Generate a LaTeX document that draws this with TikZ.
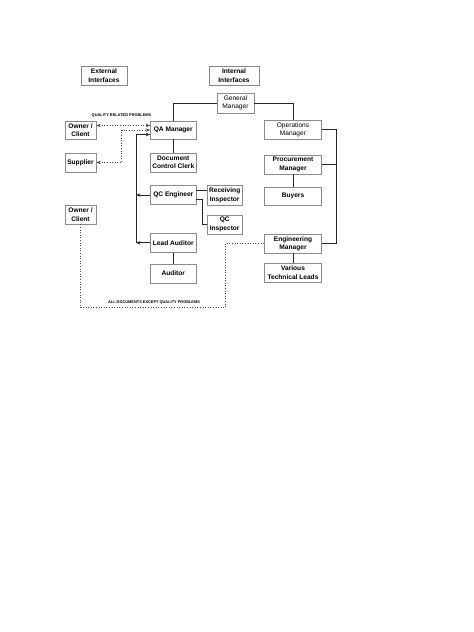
\documentclass[tikz,border=0pt]{standalone}
\usepackage{fontspec}
\setmainfont{Liberation Sans}
\usetikzlibrary{arrows.meta}
\begin{document}
\begin{tikzpicture}[x=1pt,y=-1pt,
  box/.style={draw=black!45, line width=0.7pt, fill=white, minimum height=19pt, inner sep=0pt, align=center, font=\fontsize{6.6}{8.3}\selectfont\bfseries},
  lightbox/.style={box, font=\fontsize{6.6}{8.3}\selectfont},
  conn/.style={draw=black!85, line width=0.75pt},
  dotconn/.style={draw=black!70, line width=0.6pt, dotted},
  tipend/.style={-{Stealth[length=4.5pt,width=3.4pt]}},
  tipboth/.style={{Stealth[length=4.5pt,width=3.4pt]}-{Stealth[length=4.5pt,width=3.4pt]}},
  lbl/.style={font=\fontsize{3.9}{4.5}\selectfont\bfseries, inner sep=0pt}]
\useasboundingbox (0,0) rectangle (474,632);

% header boxes
\node[box, minimum width=46pt] (ext) at (104,75.5) {External\\Interfaces};
\node[box, minimum width=50pt] (int) at (234,75.5) {Internal\\Interfaces};
\node[lightbox, minimum width=37pt, minimum height=20pt] (gm) at (235.5,103) {General\\Manager};

% QA column
\node[box, minimum width=45.5pt, minimum height=18pt] (qa) at (173.3,130) {QA Manager};
\node[box, minimum width=45.5pt] (dcc) at (173.3,162.5) {Document\\Control Clerk};
\node[box, minimum width=45.5pt] (qce) at (173.3,195) {QC Engineer};
\node[box, minimum width=45.5pt, minimum height=19.5pt] (lead) at (173.3,242.8) {Lead Auditor};
\node[box, minimum width=45.5pt] (aud) at (173.3,273.5) {Auditor};

% external
\node[box, minimum width=31pt, minimum height=18pt] (own1) at (80.5,130) {Owner /\\Client};
\node[box, minimum width=31pt] (sup) at (80.5,162.5) {Supplier};
\node[box, minimum width=31pt] (own2) at (80.5,214.5) {Owner /\\Client};

% inspectors
\node[box, minimum width=35.5pt, minimum height=19.5pt] (rec) at (224.7,195.2) {Receiving\\Inspector};
\node[box, minimum width=35.5pt] (qci) at (224.7,224.5) {QC\\Inspector};

% right column
\node[lightbox, minimum width=57pt] (ops) at (293,129.5) {Operations\\Manager};
\node[box, minimum width=57pt] (proc) at (293,164.5) {Procurement\\Manager};
\node[box, minimum width=57pt, minimum height=18pt] (buy) at (293,196) {Buyers};
\node[box, minimum width=57pt] (eng) at (293,243.5) {Engineering\\Manager};
\node[box, minimum width=57pt] (var) at (293,272.5) {Various\\Technical Leads};

% helper coordinates
\coordinate (rx) at (336,0);
\coordinate (lx) at (136,0);
\coordinate (dx) at (121.7,130);
\coordinate (bx) at (225,307.7);

% solid connectors
\draw[conn] (gm.west) -| (qa.north);
\draw[conn] (gm.east) -| (ops.north);
\draw[conn] (qa) -- (dcc);
\draw[conn] (lead) -- (aud);
\draw[conn] (proc) -- (buy);
\draw[conn] (eng) -- (var);
\draw[conn] (ops.east) -- (ops.east -| rx) |- (eng.east);
\draw[conn] (proc.east) -- (proc.east -| rx);
\draw[conn] ([yshift=5pt]qce.east) -- ([yshift=5pt]qce.east -| rec.west);
\draw[conn] ([yshift=-4pt]qce.east) -- ++(6pt,0) |- (qci.west);
\draw[conn, tipend] (qce.west) -- (qce.west -| lx);
\draw[conn, tipend] (lead.west) -- (lead.west -| lx);
\draw[conn, tipend] (lead.west -| lx) -- ([yshift=-4.5pt]qa.west -| lx) -- ([yshift=-4.5pt]qa.west);

% dotted connectors
\draw[dotconn, tipboth] ([yshift=4.5pt]own1.east) -- ([yshift=4.5pt]qa.west);
\draw[dotconn, tipboth] (sup.east) -| (dx) -- (qa.west);
\draw[dotconn] (own2.south) |- (bx) |- (eng.west);

% labels
\node[lbl] (lq) at (121.5,116) {QUALITY RELATED PROBLEMS};
\node[lbl] (la) at (154,302.7) {ALL DOCUMENTS EXCEPT QUALITY PROBLEMS};
\end{tikzpicture}
\end{document}
